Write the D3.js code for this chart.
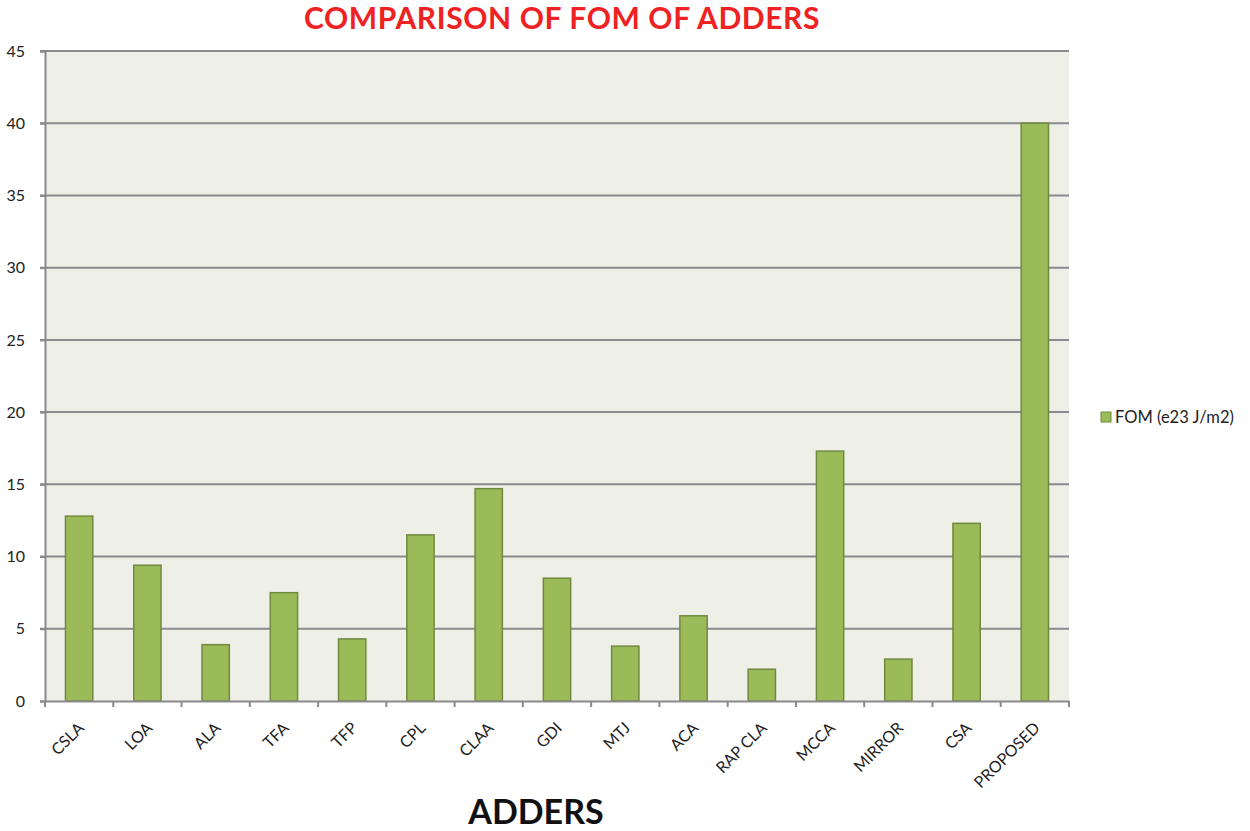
<!DOCTYPE html>
<html>
<head>
<meta charset="utf-8">
<script src="https://cdn.jsdelivr.net/npm/d3@7"></script>
<style>
  body { margin: 0; background: #fff; }
  text { font-family: Lato, "Open Sans", sans-serif; }
</style>
</head>
<body>
<div id="container"></div>
<script>
// Data
const adders = ["CSLA", "LOA", "ALA", "TFA", "TFP", "CPL", "CLAA", "GDI", "MTJ", "ACA", "RAP CLA", "MCCA", "MIRROR", "CSA", "PROPOSED"];
const fom = [12.8, 9.4, 3.9, 7.5, 4.3, 11.5, 14.7, 8.5, 3.8, 5.9, 2.2, 17.3, 2.9, 12.3, 40];
const yTicks = [0, 5, 10, 15, 20, 25, 30, 35, 40, 45];
const seriesName = "FOM (e23 J/m2)";

// Constants
const width = 1250;
const height = 831;
const plotLeft = 45, plotRight = 1069, plotTop = 51, plotBottom = 701;

const svg = d3
  .select("#container")
  .append("svg")
  .attr("width", width)
  .attr("height", height);

// Scales
const xScale = d3.scaleBand().domain(adders).range([plotLeft, plotRight]).paddingInner(0.6).paddingOuter(0.3);
const bandX = d3.scaleBand().domain(adders).range([plotLeft, plotRight]);
const yScale = d3.scaleLinear().domain([0, 45]).range([plotBottom, plotTop]);

// Plot background
svg.append("rect")
  .attr("x", plotLeft).attr("y", plotTop)
  .attr("width", plotRight - plotLeft).attr("height", plotBottom - plotTop)
  .attr("fill", "#eef0e8");

// Gridlines
svg.append("g")
  .selectAll("line")
  .data(yTicks.filter((d) => d > 0))
  .enter()
  .append("line")
  .attr("x1", plotLeft - 5)
  .attr("x2", plotRight)
  .attr("y1", (d) => yScale(d))
  .attr("y2", (d) => yScale(d))
  .attr("stroke", "#8a8a8a")
  .attr("stroke-width", 2);

// Bars
svg.append("g")
  .selectAll("rect")
  .data(adders)
  .enter()
  .append("rect")
  .attr("x", (d) => xScale(d))
  .attr("y", (d, i) => yScale(fom[i]))
  .attr("width", xScale.bandwidth())
  .attr("height", (d, i) => yScale(0) - yScale(fom[i]))
  .attr("fill", "#9bbb59")
  .attr("stroke", "#71893f")
  .attr("stroke-width", 1.5);

// Y axis
const yAxis = d3.axisLeft(yScale).tickValues(yTicks).tickSize(5).tickPadding(15);
const gy = svg.append("g").attr("transform", `translate(${plotLeft},0)`).call(yAxis);
gy.select(".domain").attr("stroke", "#8a8a8a").attr("stroke-width", 2);
gy.selectAll(".tick line").attr("stroke", "#8a8a8a").attr("stroke-width", 2);
gy.selectAll(".tick text").attr("font-size", 16).attr("fill", "#222");

// X axis
const xAxis = d3.axisBottom(bandX).tickSize(0).tickFormat("");
const gx = svg.append("g").attr("transform", `translate(0,${plotBottom})`).call(xAxis);
gx.select(".domain").attr("stroke", "#8a8a8a").attr("stroke-width", 2);

svg.append("g")
  .selectAll("line")
  .data(adders.concat(["_end"]))
  .enter()
  .append("line")
  .attr("x1", (d, i) => plotLeft + i * bandX.bandwidth())
  .attr("x2", (d, i) => plotLeft + i * bandX.bandwidth())
  .attr("y1", plotBottom)
  .attr("y2", plotBottom + 6)
  .attr("stroke", "#8a8a8a")
  .attr("stroke-width", 2);

svg.append("g")
  .selectAll("text")
  .data(adders)
  .enter()
  .append("text")
  .attr("transform", (d) => `translate(${bandX(d) + bandX.bandwidth() / 2 + 6},${plotBottom + 28}) rotate(-45)`)
  .attr("text-anchor", "end")
  .attr("font-size", 16)
  .attr("fill", "#222")
  .text((d) => d);

// Title
svg.append("text")
  .attr("x", 562)
  .attr("y", 29)
  .attr("text-anchor", "middle")
  .attr("font-size", 30)
  .attr("font-weight", "bold")
  .attr("letter-spacing", 0.6)
  .attr("fill", "#ee2222")
  .text("COMPARISON OF FOM OF ADDERS");

// Axis title
svg.append("text")
  .attr("x", 536)
  .attr("y", 824)
  .attr("text-anchor", "middle")
  .attr("font-size", 34)
  .attr("font-weight", "bold")
  .attr("fill", "#111")
  .text("ADDERS");

// Legend
const legend = svg.append("g").attr("id", "legend");
legend.append("rect")
  .attr("x", 1101).attr("y", 412)
  .attr("width", 10).attr("height", 10)
  .attr("fill", "#9bbb59")
  .attr("stroke", "#71893f");
legend.append("text")
  .attr("x", 1115).attr("y", 423)
  .attr("font-size", 16.5)
  .attr("fill", "#222")
  .text(seriesName);
</script>
</body>
</html>
